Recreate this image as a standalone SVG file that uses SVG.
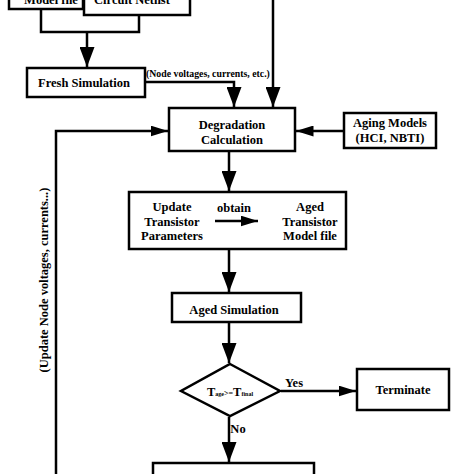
<svg xmlns="http://www.w3.org/2000/svg" width="474" height="474" viewBox="0 0 474 474">
<style>
.box{fill:#fff;stroke:#000;stroke-width:2.5}
.ln{fill:none;stroke:#000;stroke-width:2.5}
.t{font-family:"Liberation Serif","Times New Roman",serif;font-weight:bold;font-size:12.5px;fill:#000;text-anchor:middle}
.s{font-size:9.8px;text-anchor:start}
</style>
<defs>
<marker id="ah" markerWidth="8" markerHeight="6" refX="8" refY="3" orient="auto" markerUnits="strokeWidth">
<path d="M0,0 L8,3 L0,6 Z" fill="#000"/>
</marker>
<marker id="ahs" markerWidth="7" markerHeight="4.4" refX="7" refY="2.2" orient="auto" markerUnits="strokeWidth">
<path d="M0,0 L7,2.2 L0,4.4 Z" fill="#000"/>
</marker>
</defs>
<g id="model-file">
<rect class="box" x="9" y="-20" width="74" height="29"/>
<text class="t" x="51" y="4">Model file</text>
</g>
<g id="circuit-netlist">
<rect class="box" x="84" y="-20" width="106" height="35"/>
<text class="t" x="132" y="4">Circuit Netlist</text>
</g>
<g id="fresh-simulation">
<rect class="box" x="27" y="68" width="118" height="29"/>
<text class="t" x="84" y="87">Fresh Simulation</text>
</g>
<g id="degradation">
<rect class="box" x="169" y="108" width="126" height="43"/>
<text class="t" x="232" y="129">Degradation</text>
<text class="t" x="232" y="144">Calculation</text>
</g>
<g id="aging-models">
<rect class="box" x="344" y="113" width="92" height="35"/>
<text class="t" x="390" y="127">Aging Models</text>
<text class="t" x="390" y="142">(HCI, NBTI)</text>
</g>
<g id="update">
<rect class="box" x="129" y="192" width="217" height="57"/>
<text class="t" x="172" y="211">Update</text>
<text class="t" x="172" y="226">Transistor</text>
<text class="t" x="172" y="240">Parameters</text>
<text class="t" x="234" y="212">obtain</text>
<text class="t" x="310" y="211">Aged</text>
<text class="t" x="310" y="226">Transistor</text>
<text class="t" x="310" y="240">Model file</text>
</g>
<g id="aged-simulation">
<rect class="box" x="172" y="293" width="129" height="29"/>
<text class="t" x="234" y="314">Aged Simulation</text>
</g>
<g id="decision">
<polygon class="box" points="230,364 280,391 230,416 181,391"/>
<text class="t" x="230" y="396" font-size="10">T<tspan font-size="6">age</tspan><tspan font-size="8">&gt;=</tspan>T<tspan font-size="6">final</tspan></text>
</g>
<g id="terminate">
<rect class="box" x="357" y="369" width="92" height="41"/>
<text class="t" x="403" y="394">Terminate</text>
</g>
<g id="next">
<rect class="box" x="153" y="463" width="161" height="30"/>
</g>
<g id="connectors">
<path class="ln" d="M41,10 V32 H139 V16"/>
<path class="ln" d="M87,32 V67" marker-end="url(#ah)"/>
<path class="ln" d="M146,82 H234 V107" marker-end="url(#ah)"/>
<path class="ln" d="M273,0 V107" marker-end="url(#ah)"/>
<path class="ln" d="M343,131 H296" marker-end="url(#ahs)"/>
<path class="ln" d="M56,474 V131 H168" marker-end="url(#ahs)"/>
<path class="ln" d="M229,152 V191" marker-end="url(#ah)"/>
<path class="ln" d="M215,221 H258" marker-end="url(#ahs)"/>
<path class="ln" d="M229,250 V292" marker-end="url(#ah)"/>
<path class="ln" d="M229,323 V363" marker-end="url(#ah)"/>
<path class="ln" d="M281,391 H356" marker-end="url(#ahs)"/>
<path class="ln" d="M229,417 V462" marker-end="url(#ah)"/>
<text class="t s" x="146" y="77">(Node voltages, currents, etc.)</text>
<text class="t" x="0" y="0" font-size="12" transform="translate(48,280) rotate(-90)">(Update Node voltages, currents...)</text>
<text class="t" x="294" y="387" font-size="14">Yes</text>
<text class="t" x="238" y="433" font-size="14">No</text>
</g>
</svg>
